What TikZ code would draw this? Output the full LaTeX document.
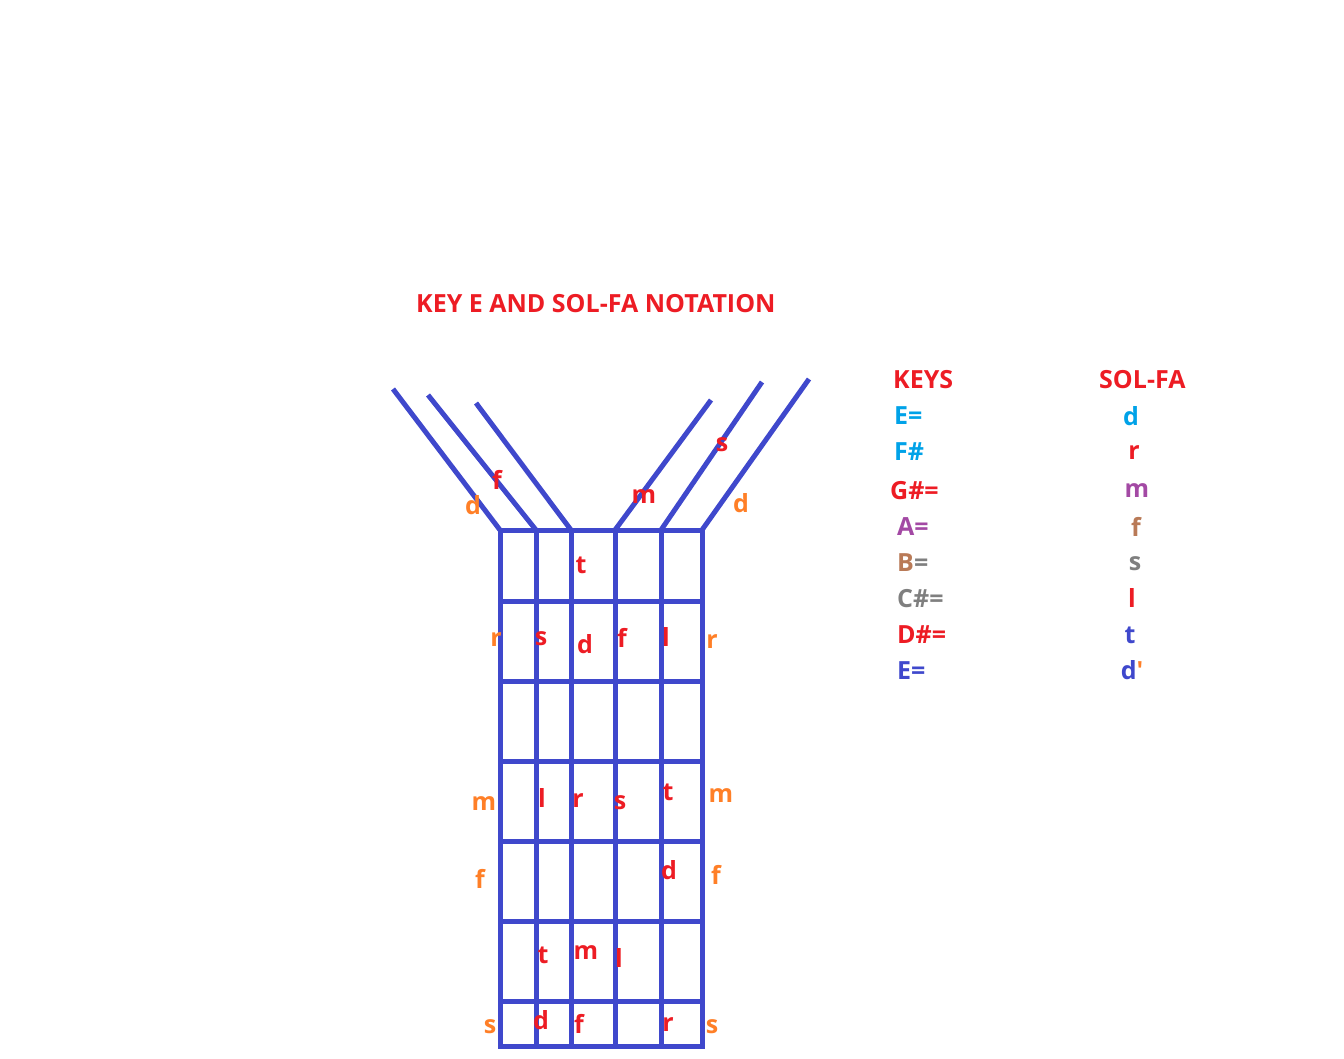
\documentclass[tikz,border=0pt]{standalone}
\usepackage{fontspec}
\setmainfont{Open Sans}

\definecolor{fretblue}{RGB}{63,72,204}
\definecolor{notered}{RGB}{237,28,36}
\definecolor{openorange}{RGB}{255,127,39}
\definecolor{keycyan}{RGB}{0,162,232}
\definecolor{keypurple}{RGB}{163,73,164}
\definecolor{keybrown}{RGB}{185,122,87}
\definecolor{keygray}{RGB}{127,127,127}

\tikzset{
  fretline/.style={fretblue, line width=5pt},
  note/.style={font=\bfseries\fontsize{25}{30}\selectfont, inner sep=0pt, text=notered},
  opennote/.style={note, text=openorange},
  keytext/.style={note, anchor=west}
}

\begin{document}
\begin{tikzpicture}[x=1pt,y=-1pt]
    \useasboundingbox (0,0) rectangle (1344,1059);

    % Title
    \node[note, anchor=west] (title) at (416,304) {KEY E AND SOL-FA NOTATION};

    % String feet on the nut and their ends up top
    \coordinate (foot1) at (500,530); \coordinate (top1) at (393,389);
    \coordinate (foot2) at (536,530); \coordinate (top2) at (428,395);
    \coordinate (foot3) at (571,530); \coordinate (top3) at (476,403);
    \coordinate (foot4) at (615,530); \coordinate (top4) at (711,400);
    \coordinate (foot5) at (661,530); \coordinate (top5) at (762,382);
    \coordinate (foot6) at (702,530); \coordinate (top6) at (809,379);

    % Strings
    \foreach \s in {1,...,6} {
        \draw[fretline] (top\s) -- (foot\s);
        \draw[fretline] (foot\s) -- ++(0,516);
    }

    % Frets
    \foreach \y in {530,601,681,761,841,921,1001,1046}
        \draw[fretline, line cap=rect] (500,\y) -- (702,\y);

    % Open string names
    \node[opennote] (openL1) at (473,505) {d};
    \node[opennote] (openR1) at (741,503) {d};
    \node[opennote] (openL2) at (496,640) {r};
    \node[opennote] (openR2) at (712,642) {r};
    \node[opennote] (openL3) at (484,804) {m};
    \node[opennote] (openR3) at (721,796) {m};
    \node[opennote] (openL4) at (480,879) {f};
    \node[opennote] (openR4) at (716,875) {f};
    \node[opennote] (openL5) at (490,1027) {s};
    \node[opennote] (openR5) at (712,1027) {s};

    % Notes on the strings
    \node[note] (n1) at (497,480) {f};
    \node[note] (n2) at (644,497) {m};
    \node[note] (n3) at (722,445) {s};
    \node[note] (n4) at (581,565) {t};
    \node[note] (n5) at (541,639) {s};
    \node[note] (n6) at (585,644) {d};
    \node[note] (n7) at (622,638) {f};
    \node[note] (n8) at (666,637) {l};
    \node[note] (n9) at (542,798) {l};
    \node[note] (n10) at (578,801) {r};
    \node[note] (n11) at (620,803) {s};
    \node[note] (n12) at (668,792) {t};
    \node[note] (n13) at (669,870) {d};
    \node[note] (n14) at (543,955) {t};
    \node[note] (n15) at (586,953) {m};
    \node[note] (n16) at (619,958) {l};
    \node[note] (n17) at (541,1020) {d};
    \node[note] (n18) at (579,1024) {f};
    \node[note] (n19) at (668,1025) {r};

    % Legend: keys
    \node[keytext] (keys) at (893,380) {KEYS};
    \node[keytext, text=keycyan] (keyE) at (894,416) {E=};
    \node[keytext, text=keycyan] (keyF) at (894,452) {F\#};
    \node[keytext] (keyG) at (890,491) {G\#=};
    \node[keytext, text=keypurple] (keyA) at (897,527) {A=};
    \node[keytext, text=keybrown] (keyB) at (897,563) {B\textcolor{keygray}{=}};
    \node[keytext, text=keygray] (keyC) at (897,599) {C\#=};
    \node[keytext] (keyD) at (897,635) {D\#=};
    \node[keytext, text=fretblue] (keyEE) at (897,671) {E=};

    % Legend: sol-fa
    \node[keytext] (solfa) at (1099,380) {SOL-FA};
    \node[note, text=keycyan] (sfd) at (1131,416) {d};
    \node[note] (sfr) at (1134,453) {r};
    \node[note, text=keypurple] (sfm) at (1137,491) {m};
    \node[note, text=keybrown] (sff) at (1136,527) {f};
    \node[note, text=keygray] (sfs) at (1135,564) {s};
    \node[note] (sfl) at (1132,598) {l};
    \node[note, text=fretblue] (sft) at (1130,635) {t};
    \node[note, text=fretblue] (sfdd) at (1132,670) {d\textcolor{openorange}{\textquotesingle}};
\end{tikzpicture}
\end{document}
